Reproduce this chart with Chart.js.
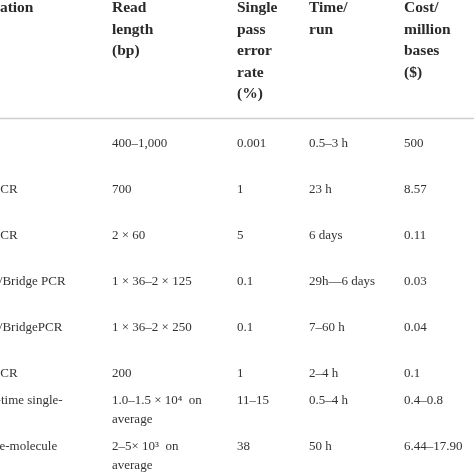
<!DOCTYPE html>
<html><head><meta charset="utf-8">
<script src="https://cdn.jsdelivr.net/npm/chart.js@4.4.1/dist/chart.umd.min.js"></script>
<style>html,body{margin:0;padding:0;background:#fff}#w{width:474px;height:474px}</style>
</head><body><div id="w"><canvas id="c"></canvas></div>
<script>
const headers = [["cation"],["Read","length","(bp)"],["Single","pass","error","rate","(%)"],["Time/","run"],["Cost/","million","bases","($)"]];
const platformCol = ["", "PCR", "PCR", "e/Bridge PCR", "e/BridgePCR", "PCR", ["l-time single-"], ["de-molecule"]];
const readLength = ["400–1,000","700","2 × 60","1 × 36–2 × 125","1 × 36–2 × 250","200",["1.0–1.5 × 10⁴  on","average"],["2–5× 10³  on","average"]];
const errorRate = ["0.001","1","5","0.1","0.1","1","11–15","38"];
const timeRun = ["0.5–3 h","23 h","6 days","29h—6 days","7–60 h","2–4 h","0.5–4 h","50 h"];
const costPerMb = ["500","8.57","0.11","0.03","0.04","0.1","0.4–0.8","6.44–17.90"];

// layout (pixel-space of the 474x474 linear scales)
const colX = [-7,112,237,309,404];
const headerTop = 8, headerStep = 21.6;
const rowY = [144,190,236,282,328,374,401,447];
const lineStep = 19;
const ruleY = 118.5;

const tablePlugin = {
  id:'table',
  afterDraw(chart){
    const {ctx, scales:{x,y}} = chart;
    ctx.save();
    ctx.textBaseline='middle';
    ctx.fillStyle='#2a2a2a';
    ctx.font='bold 15.5px "Liberation Serif"';
    headers.forEach((lines,ci)=>lines.forEach((t,li)=>{
      ctx.fillText(t, x.getPixelForValue(colX[ci]), y.getPixelForValue(headerTop+li*headerStep));
    }));
    ctx.strokeStyle='#cfcfcf'; ctx.lineWidth=1.5;
    ctx.beginPath(); ctx.moveTo(x.getPixelForValue(0),y.getPixelForValue(ruleY));
    ctx.lineTo(x.getPixelForValue(474),y.getPixelForValue(ruleY)); ctx.stroke();
    ctx.font='13px "Liberation Serif"';
    ctx.fillStyle='#333';
    const cols=[platformCol,readLength,errorRate,timeRun,costPerMb];
    cols.forEach((col,ci)=>col.forEach((v,ri)=>{
      const lines=Array.isArray(v)?v:[v];
      lines.forEach((t,li)=>ctx.fillText(t, x.getPixelForValue(colX[ci]), y.getPixelForValue(rowY[ri]+li*lineStep)));
    }));
    ctx.restore();
  }
};

new Chart(document.getElementById('c'),{
  type:'scatter',
  data:{datasets:[{data:[]}]},
  options:{
    responsive:true, maintainAspectRatio:false, animation:false,
    layout:{padding:0},
    plugins:{legend:{display:false},tooltip:{enabled:false}},
    scales:{
      x:{type:'linear',min:0,max:474,display:false},
      y:{type:'linear',min:0,max:474,reverse:true,display:false}
    }
  },
  plugins:[tablePlugin]
});
</script></body></html>
